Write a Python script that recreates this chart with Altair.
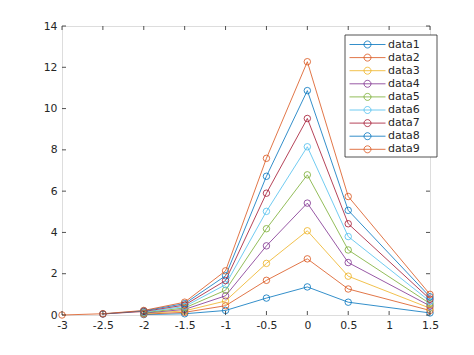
import altair as alt
import pandas as pd

# ---- data ----
series = ["data1", "data2", "data3", "data4", "data5", "data6", "data7", "data8", "data9"]
colors = ["#0072BD", "#D95319", "#EDB120", "#7E2F8E", "#77AC30",
          "#4DBEEE", "#A2142F", "#0072BD", "#D95319"]

x_full = [-3, -2.5, -2, -1.5, -1, -0.5, 0, 0.5, 1.5]
data1 = [None, None, 0.02, 0.06, 0.22, 0.82, 1.36, 0.62, 0.10]
data2 = [None, None, 0.04, 0.13, 0.45, 1.68, 2.72, 1.26, 0.22]
data3 = [None, None, 0.07, 0.20, 0.68, 2.50, 4.08, 1.88, 0.33]
data4 = [None, None, 0.09, 0.27, 0.93, 3.35, 5.42, 2.54, 0.44]
data5 = [None, None, 0.11, 0.34, 1.20, 4.18, 6.79, 3.15, 0.55]
data6 = [None, None, 0.14, 0.41, 1.47, 5.02, 8.15, 3.80, 0.66]
data7 = [None, 0.05, 0.17, 0.48, 1.67, 5.90, 9.52, 4.42, 0.77]
data8 = [None, 0.05, 0.20, 0.55, 1.90, 6.72, 10.87, 5.07, 0.88]
data9 = [0.0, 0.06, 0.22, 0.62, 2.14, 7.59, 12.27, 5.74, 1.00]
values = [data1, data2, data3, data4, data5, data6, data7, data8, data9]

x_ticks = [-3, -2.5, -2, -1.5, -1, -0.5, 0, 0.5, 1, 1.5]
y_ticks = [0, 2, 4, 6, 8, 10, 12, 14]

rows = []
for name, vals in zip(series, values):
    for xv, yv in zip(x_full, vals):
        if yv is not None:
            rows.append({"series": name, "x": xv, "y": yv})
df = pd.DataFrame(rows)

W, H = 368, 289
FONT = "DejaVu Sans"
TXT = "#262626"

xs = alt.Scale(domain=[-3, 1.5], nice=False, zero=False)
ys = alt.Scale(domain=[0, 14], nice=False, zero=False)

x_axis = alt.Axis(
    values=x_ticks, labelExpr="'' + datum.value", ticks=False, domain=False,
    grid=False, labelFont=FONT, labelFontSize=10.8, labelColor=TXT,
    labelPadding=4, title=None, labelFlush=False)
y_axis = alt.Axis(
    values=y_ticks, ticks=False, domain=False, grid=False, labelFont=FONT,
    labelFontSize=10.8, labelColor=TXT, labelPadding=5, title=None)

legend_path = "M-3.6,0H3.6M-0.7,0A0.7,0.7 0 1,0 0.7,0A0.7,0.7 0 1,0 -0.7,0"

lines = alt.Chart(df).mark_line(
    strokeWidth=0.8, clip=False,
    point=alt.OverlayMarkDef(filled=False, shape="circle", size=42, strokeWidth=0.8),
).encode(
    x=alt.X("x:Q", scale=xs, axis=x_axis),
    y=alt.Y("y:Q", scale=ys, axis=y_axis),
    color=alt.Color("series:N", scale=alt.Scale(domain=series, range=colors),
                    sort=series,
                    legend=alt.Legend(
                        title=None, orient="none", legendX=283, legendY=9,
                        symbolType=legend_path, symbolSize=100,
                        symbolStrokeWidth=0.8, symbolFillColor="transparent",
                        symbolOffset=13, labelOffset=15,
                        labelFont=FONT, labelFontSize=11, labelColor=TXT,
                        rowPadding=1.1, padding=4)),
    order=alt.Order("x:Q"),
)

# legend frame (MATLAB-style box)
legend_box = alt.Chart(pd.DataFrame({"k": [0]})).mark_rect(
    fill="white", stroke=TXT, strokeWidth=0.8
).encode(x=alt.value(283), x2=alt.value(375), y=alt.value(9), y2=alt.value(131))

xt = pd.DataFrame({"t": x_ticks})
yt = pd.DataFrame({"t": y_ticks})
tl = 4
bottom_ticks = alt.Chart(xt).mark_rule(color=TXT, strokeWidth=0.8).encode(
    x=alt.X("t:Q", scale=xs, axis=x_axis), y=alt.value(H), y2=alt.value(H - tl))
top_ticks = alt.Chart(xt).mark_rule(color=TXT, strokeWidth=0.8).encode(
    x=alt.X("t:Q", scale=xs, axis=x_axis), y=alt.value(0), y2=alt.value(tl))
left_ticks = alt.Chart(yt).mark_rule(color=TXT, strokeWidth=0.8).encode(
    y=alt.Y("t:Q", scale=ys, axis=y_axis), x=alt.value(0), x2=alt.value(tl))
right_ticks = alt.Chart(yt).mark_rule(color=TXT, strokeWidth=0.8).encode(
    y=alt.Y("t:Q", scale=ys, axis=y_axis), x=alt.value(W), x2=alt.value(W - tl))

chart = alt.layer(lines, bottom_ticks, top_ticks, left_ticks, right_ticks,
                  legend_box).properties(
    width=W, height=H,
    padding={"left": 62, "top": 26, "right": 44, "bottom": 40},
    autosize=alt.AutoSizeParams(type="none"),
).configure_view(stroke=TXT, strokeWidth=1).configure(background="white")

chart.save("out.html", embed_options={"renderer": "svg", "actions": False})
